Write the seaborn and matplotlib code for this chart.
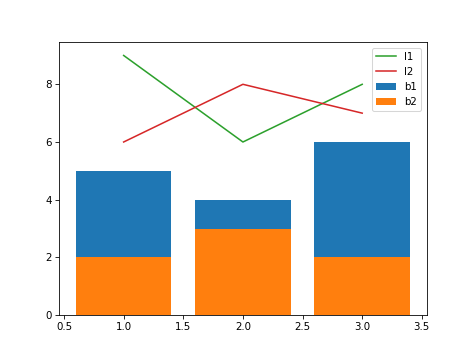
import matplotlib
matplotlib.use("Agg")
import matplotlib.pyplot as plt
import seaborn as sns
import pandas as pd

x = [1, 2, 3]
b1 = [5, 4, 6]
b2 = [2, 3, 2]
l1 = [9, 6, 8]
l2 = [6, 8, 7]

fig, ax = plt.subplots(figsize=(474/74, 354/74), dpi=74)

sns.barplot(x=x, y=b1, native_scale=True, color="#1f77b4", saturation=1,
            width=0.8, errorbar=None, ax=ax, label="b1")
sns.barplot(x=x, y=b2, native_scale=True, color="#ff7f0e", saturation=1,
            width=0.8, errorbar=None, ax=ax, label="b2")
sns.lineplot(x=x, y=l1, color="#2ca02c", ax=ax, label="l1")
sns.lineplot(x=x, y=l2, color="#d62728", ax=ax, label="l2")

ax.set_xlim(0.46, 3.54)
ax.set_ylim(0, 9.45)
ax.set_xlabel("")
ax.set_ylabel("")

handles, labels = ax.get_legend_handles_labels()
order = ["l1", "l2", "b1", "b2"]
hmap = dict(zip(labels, handles))
ax.legend([hmap[k] for k in order], order, loc="upper right")

fig.savefig("out.png", dpi=74)
